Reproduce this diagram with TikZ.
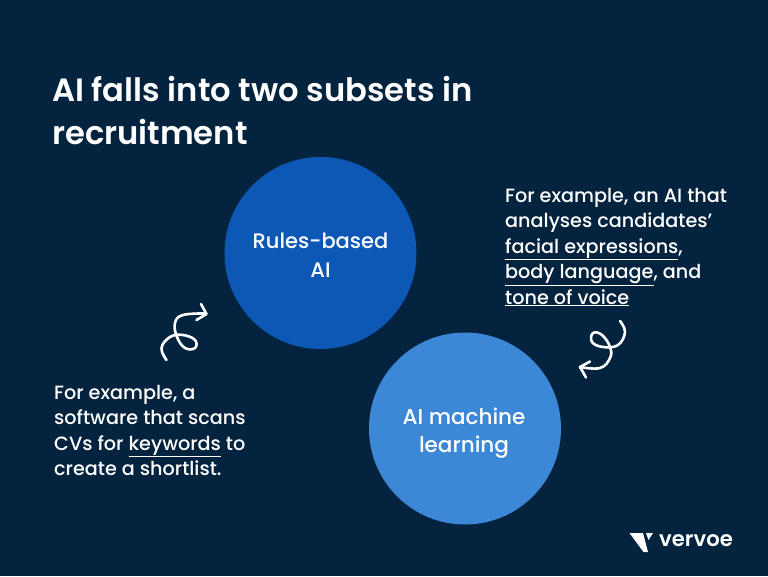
\documentclass[tikz,border=0pt]{standalone}
\usepackage{xcolor}
\usepackage{fontspec}
\setmainfont{Poppins Medium}[BoldFont = Poppins SemiBold]
\usetikzlibrary{shapes.geometric}
\definecolor{pagebg}{HTML}{03233F}
\definecolor{rulesblue}{HTML}{0E58B5}
\definecolor{learnblue}{HTML}{3C87D6}
\tikzset{
    bubble/.style = {circle, minimum size = 192pt, inner sep = 0pt},
    bubbletext/.style = {inner sep = 0pt, align = center, text = white, font = \fontsize{21}{28.5}\selectfont},
    blurb/.style = {anchor = north west, inner sep = 0pt, align = left, text = white, font = \fontsize{19.2}{25.4}\selectfont},
    squiggle/.style = {draw = white, line width = 2.6pt, line cap = round, line join = round}
}

\begin{document}
\begin{tikzpicture}[x = 1pt, y = -1pt]
        \fill[color = pagebg] (0, 0) rectangle (768, 576);

        \node[anchor = north west, inner sep = 0pt, align = left, text = white, font = \fontsize{32.2}{43}\bfseries\selectfont] (title) at (52, 76) {AI falls into two subsets in\\recruitment};

        \node[bubble, fill = rulesblue] (rules) at (320.5, 253) {};
        \node[bubbletext] (ruleslabel) at (320.5, 255) {Rules-based\\AI};
        \node[bubble, fill = learnblue] (learning) at (465, 428.5) {};
        \node[bubbletext, font = \fontsize{21.5}{28.5}\selectfont] (learninglabel) at (464, 433) {AI machine\\learning};

        \node[blurb] (voice) at (505, 188) {For example, an AI that\\analyses candidates’\\\underline{facial expressions},\\\underline{body language}, and\\\underline{tone of voice}};
        \node[blurb] (scan) at (54, 385) {For example, a\\software that scans\\CVs for \underline{keywords} to\\create a shortlist.};

        \draw[squiggle] plot[smooth, tension = 0.7] coordinates {(166.5, 360) (161.5, 348) (170, 337) (183, 335) (195, 340) (195, 348) (185, 348) (177, 337) (175, 323) (183, 315) (206, 313.5)};
        \draw[squiggle] (201, 304) -- (206.5, 314) -- (196.5, 320);

        \draw[squiggle] plot[smooth, tension = 0.7] coordinates {(620, 321) (625, 332) (618, 345) (603, 347) (592, 342) (593, 333) (602, 335) (610, 347) (610, 358) (600, 368) (580, 367)};
        \draw[squiggle] (590, 361.5) -- (580, 367) -- (586, 377.5);

        \fill[color = white] (629.5, 533) -- (643, 533) -- (648, 552) -- (643.5, 552) -- cycle;
        \fill[color = white] (646, 533) -- (653, 533) -- (648.5, 540) -- cycle;
        \node[anchor = west, inner sep = 0pt, text = white, font = \fontsize{21.2}{21}\bfseries\selectfont] (brand) at (659, 541) {vervoe};
    \end{tikzpicture}
\end{document}
